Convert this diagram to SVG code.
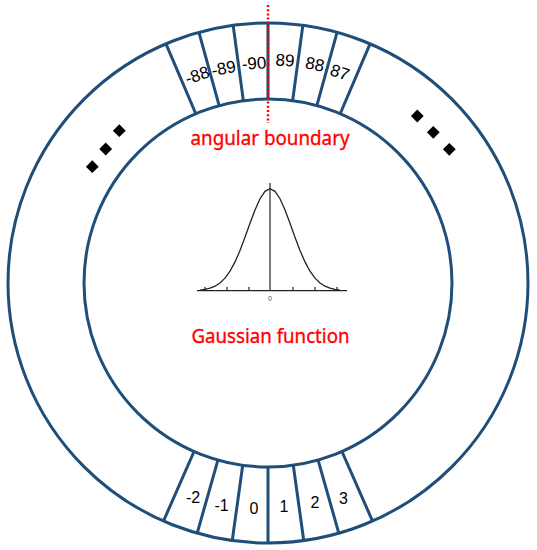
<svg xmlns="http://www.w3.org/2000/svg" width="537" height="550" viewBox="0 0 537 550">
<style>
.ring{fill:none;stroke:#1f4e79;stroke-width:3}
.div{stroke:#1f4e79;stroke-width:3;fill:none}
.num{font-family:"Liberation Sans",Arial,sans-serif;font-size:17px;fill:#000;text-anchor:middle}
.bnum{font-family:"Liberation Sans",Arial,sans-serif;font-size:16px;fill:#000;text-anchor:middle}
.red{font-family:"Noto Sans","Liberation Sans",sans-serif;font-size:20px;fill:#ff0000;stroke:#ff0000;stroke-width:0.35;text-anchor:middle}
.dot{fill:#000}
.gax{stroke:#222;stroke-width:1.2;fill:none}
.gcurve{stroke:#222;stroke-width:1.3;fill:none}
</style>
<rect width="537" height="550" fill="#fff"/>
<g id="ring">
<circle class="ring" cx="268" cy="283" r="260"/>
<circle class="ring" cx="268" cy="283" r="184"/>
</g>
<g id="top-bins">
<path class="div" d="M268,23V99 M302.84,25.35L292.65,100.66 M233.16,25.35L243.35,100.66 M337.05,32.33L316.86,105.61 M198.95,32.33L219.14,105.61 M370.01,43.85L340.19,113.75 M165.99,43.85L195.81,113.75"/>
<text class="num" transform="translate(197,75) rotate(-19)" y="6.1">-88</text>
<text class="num" transform="translate(223.5,68) rotate(-11.5)" y="6.1">-89</text>
<text class="num" transform="translate(254,63) rotate(-4)" y="6.1">-90</text>
<text class="num" transform="translate(285,60) rotate(3)" y="6.1">89</text>
<text class="num" transform="translate(315,64) rotate(11.5)" y="6.1">88</text>
<text class="num" transform="translate(340,72) rotate(19)" y="6.1">87</text>
</g>
<g id="bottom-bins">
<path class="div" d="M268,543V467 M303.73,540.53L293.29,465.25 M232.27,540.53L242.71,465.25 M338.79,533.18L318.1,460.05 M197.21,533.18L217.9,460.05 M372.51,521.07L341.96,451.48 M163.49,521.07L194.04,451.48"/>
<text class="bnum" x="193" y="502.7">-2</text>
<text class="bnum" x="221.5" y="510.7">-1</text>
<text class="bnum" x="254" y="513.7">0</text>
<text class="bnum" x="284" y="511.7">1</text>
<text class="bnum" x="315" y="507.7">2</text>
<text class="bnum" x="343.5" y="503.7">3</text>
</g>
<g id="ellipsis-left">
<polygon class="dot" points="119.3,124.3 125.7,130.7 119.3,137.1 112.9,130.7"/>
<polygon class="dot" points="105.7,142.6 112.1,149 105.7,155.4 99.3,149"/>
<polygon class="dot" points="92.3,160.3 98.7,166.7 92.3,173.1 85.9,166.7"/>
</g>
<g id="ellipsis-right">
<polygon class="dot" points="417.3,109.6 423.7,116 417.3,122.4 410.9,116"/>
<polygon class="dot" points="433.3,125.9 439.7,132.3 433.3,138.7 426.9,132.3"/>
<polygon class="dot" points="449.3,142.9 455.7,149.3 449.3,155.7 442.9,149.3"/>
</g>
<g id="connectors">
<line x1="268" y1="5" x2="268" y2="123" stroke="#ff0000" stroke-width="2.5" stroke-dasharray="2 2.2"/>
</g>
<g id="angular-boundary-label">
<text class="red" x="270" y="145" textLength="159" lengthAdjust="spacingAndGlyphs">angular boundary</text>
</g>
<g id="gaussian">
<line class="gax" x1="197" y1="290.7" x2="347" y2="290.7"/>
<line class="gax" x1="270" y1="183" x2="270" y2="290.7"/>
<path class="gax" d="M205,287V290.7 M227,287V290.7 M249,287V290.7 M293,287V290.7 M315,287V290.7 M337,287V290.7"/>
<polyline class="gcurve" points="200,290.1 205,289.4 210,288.2 215,286.2 220,283 225,278.1 230,271.2 235,261.9 240,250.5 245,237.2 250,223.2 255,209.9 260,198.7 265,191.3 270,188.7 275,191.3 280,198.7 285,209.9 290,223.2 295,237.2 300,250.5 305,261.9 310,271.2 315,278.1 320,283 325,286.2 330,288.2 335,289.4 340,290.1"/>
<text x="270" y="301" font-family="Liberation Sans,sans-serif" font-size="7" fill="#555" text-anchor="middle">0</text>
</g>
<g id="gaussian-label">
<text class="red" x="270.5" y="342.7" textLength="158" lengthAdjust="spacingAndGlyphs">Gaussian function</text>
</g>
</svg>
